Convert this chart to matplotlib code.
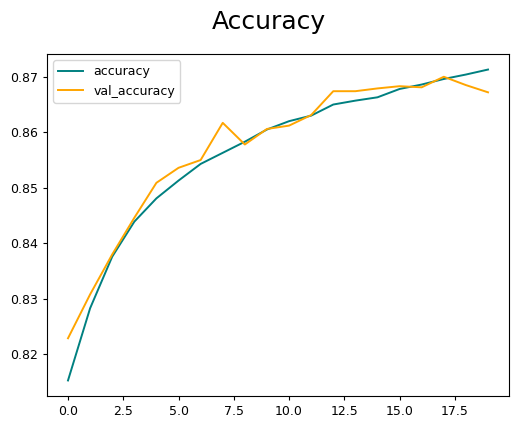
import matplotlib
matplotlib.use("Agg")
import matplotlib.pyplot as plt

epochs = list(range(20))
accuracy = [0.8153, 0.8283, 0.8376, 0.8439, 0.8481, 0.8513, 0.8543, 0.8563, 0.8583, 0.8605,
            0.8620, 0.8630, 0.8650, 0.8657, 0.8663, 0.8678, 0.8686, 0.8696, 0.8704, 0.8713]
val_accuracy = [0.8229, 0.8308, 0.8380, 0.8446, 0.8509, 0.8536, 0.8550, 0.8617, 0.8578, 0.8606,
                0.8612, 0.8631, 0.8674, 0.8674, 0.8679, 0.8683, 0.8681, 0.8700, 0.8685, 0.8672]

# reference looks like a default matplotlib figure shrunk to ~0.9
plt.rcParams['font.size'] = 9
plt.rcParams['lines.linewidth'] = 1.4
plt.rcParams['xtick.major.size'] = 3.2
plt.rcParams['ytick.major.size'] = 3.2
plt.rcParams['axes.linewidth'] = 0.8

fig = plt.figure(figsize=(5.17, 4.28), dpi=100)
ax = fig.add_axes([47/517, 32/428, 462/517, 342/428])
ax.plot(epochs, accuracy, color='teal', label='accuracy')
ax.plot(epochs, val_accuracy, color='orange', label='val_accuracy')
fig.text(0.521, 1 - 29/428, 'Accuracy', fontsize=18, ha='center', va='baseline')
ax.legend(loc='upper left')
fig.savefig('out.png', dpi=100)
